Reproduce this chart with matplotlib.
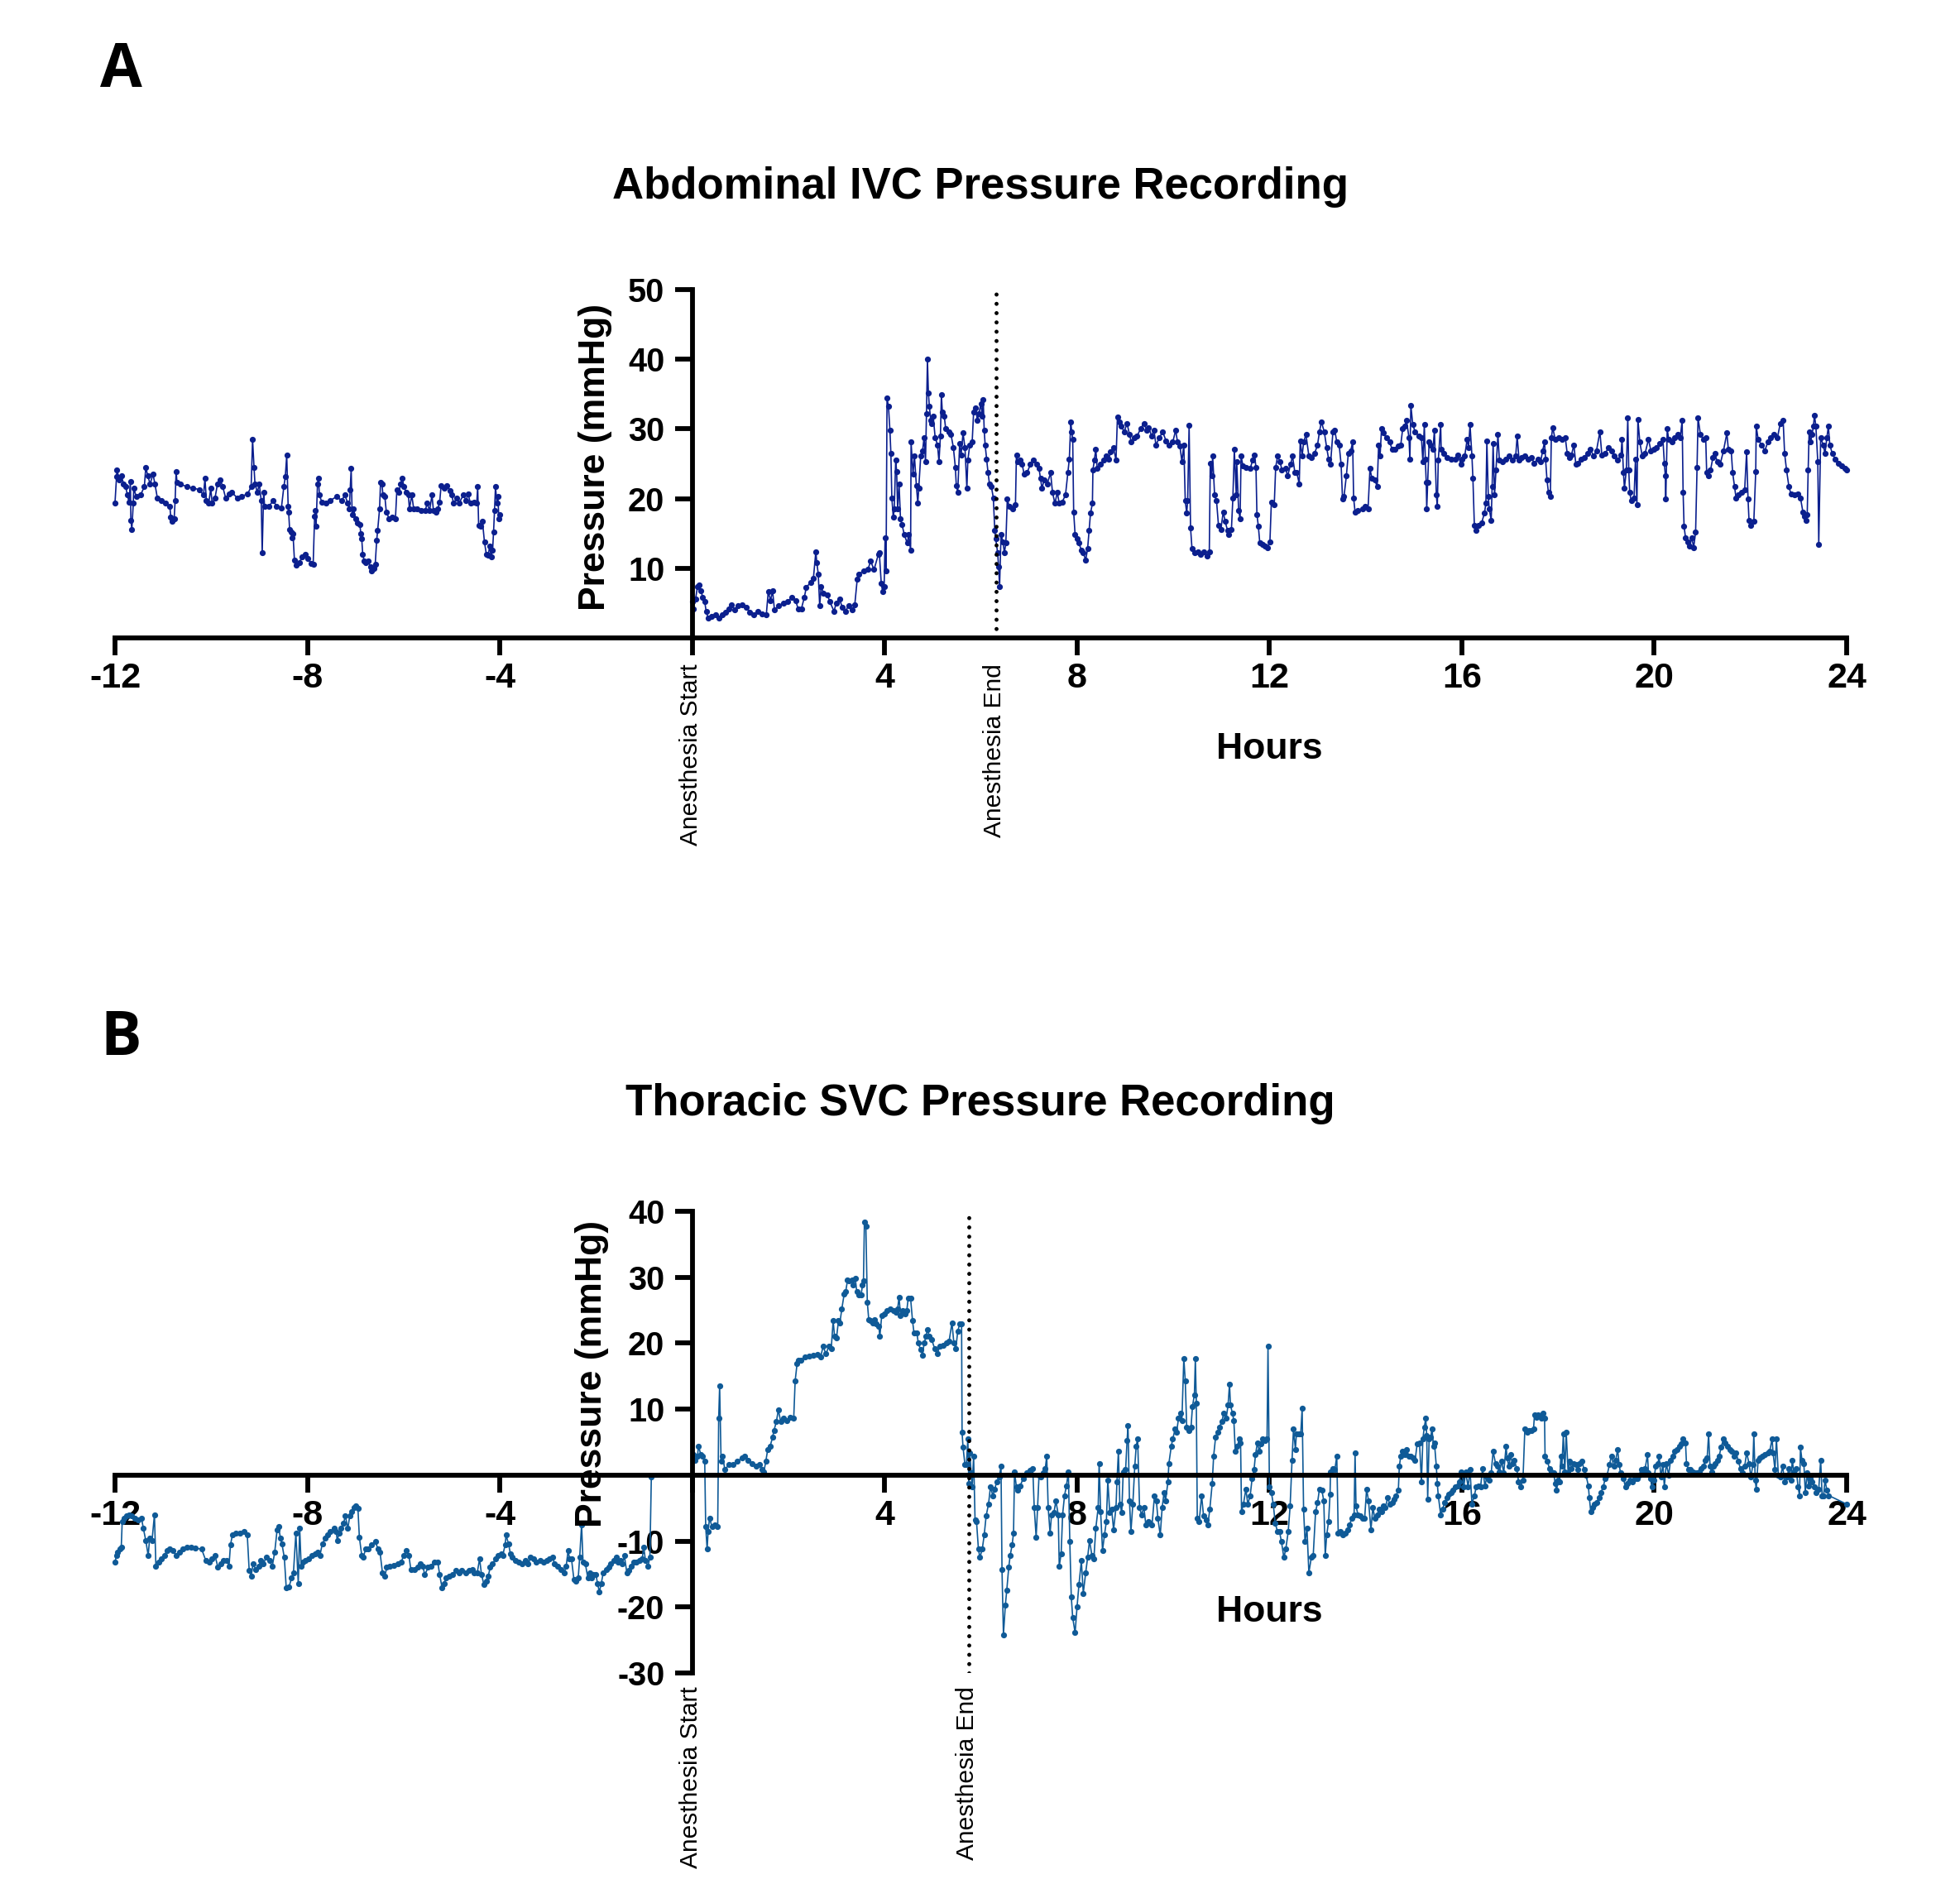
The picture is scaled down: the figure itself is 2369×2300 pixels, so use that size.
import matplotlib
matplotlib.use("Agg")
import matplotlib.pyplot as plt
from matplotlib.transforms import blended_transform_factory as btf

plt.rcParams['font.family'] = ['Liberation Sans', 'DejaVu Sans']

# ---------------- DATA ----------------
x_ticks = [-12, -8, -4, 0, 4, 8, 12, 16, 20, 24]
x_tick_labels = ['-12', '-8', '-4', '', '4', '8', '12', '16', '20', '24']
a_y_ticks = [10, 20, 30, 40, 50]
b_y_ticks = [-30, -20, -10, 10, 20, 30, 40]

anesthesia_start = 0.0
a_anesthesia_end = 6.32
b_anesthesia_end = 5.75

# Panel A, recording before anesthesia (hours, mmHg)
a_pre_hours = [
    -12.00, -11.97, -11.96, -11.91, -11.87, -11.82, -11.78, -11.74, -11.71, -11.68,
    -11.67, -11.65, -11.62, -11.61, -11.56, -11.47, -11.39, -11.36, -11.32, -11.27,
    -11.21, -11.17, -11.12, -11.04, -10.95, -10.86, -10.84, -10.82, -10.77, -10.75,
    -10.73, -10.71, -10.64, -10.51, -10.38, -10.25, -10.16, -10.13, -10.10, -10.05,
    -10.01, -9.98, -9.92, -9.87, -9.81, -9.76, -9.70, -9.63, -9.57, -9.46,
    -9.37, -9.24, -9.17, -9.14, -9.11, -9.09, -9.04, -9.00, -8.96, -8.94,
    -8.91, -8.89, -8.80, -8.71, -8.64, -8.54, -8.49, -8.46, -8.43, -8.40,
    -8.39, -8.37, -8.34, -8.32, -8.30, -8.27, -8.23, -8.17, -8.11, -8.05,
    -7.99, -7.92, -7.88, -7.85, -7.83, -7.82, -7.79, -7.77, -7.75, -7.70,
    -7.61, -7.53, -7.39, -7.29, -7.22, -7.16, -7.13, -7.11, -7.09, -7.07,
    -7.04, -7.00, -6.96, -6.91, -6.89, -6.87, -6.85, -6.82, -6.78, -6.74,
    -6.69, -6.66, -6.62, -6.59, -6.56, -6.54, -6.50, -6.48, -6.45, -6.43,
    -6.39, -6.36, -6.30, -6.24, -6.17, -6.14, -6.10, -6.06, -6.03, -5.99,
    -5.95, -5.90, -5.88, -5.83, -5.79, -5.73, -5.64, -5.55, -5.51, -5.46,
    -5.41, -5.38, -5.33, -5.29, -5.25, -5.22, -5.16, -5.10, -5.04, -5.00,
    -4.96, -4.89, -4.85, -4.76, -4.70, -4.66, -4.61, -4.54, -4.48, -4.46,
    -4.44, -4.39, -4.36, -4.32, -4.28, -4.24, -4.21, -4.18, -4.15, -4.13,
    -4.11, -4.09, -4.06, -4.04, -4.02, -4.00]
a_pre_values = [
    19.4, 23.1, 24.1, 22.7, 23.3, 22.1, 21.7, 20.5, 19.5, 22.5,
    16.9, 15.6, 19.3, 21.5, 20.3, 20.5, 21.7, 24.5, 23.3, 22.1,
    23.5, 22.1, 20.1, 19.7, 19.3, 18.9, 17.3, 16.7, 17.1, 19.7,
    23.9, 22.3, 22.1, 21.7, 21.5, 21.3, 20.5, 22.9, 19.7, 19.3,
    21.5, 19.3, 20.1, 22.1, 22.7, 21.7, 20.1, 20.7, 20.9, 20.1,
    20.3, 20.7, 21.7, 28.5, 24.5, 22.1, 20.9, 22.1, 19.7, 12.2,
    20.9, 18.9, 18.9, 19.7, 18.9, 18.7, 21.7, 23.1, 26.2, 18.9,
    18.1, 15.6, 15.2, 14.4, 15.0, 11.2, 10.4, 10.8, 11.6, 12.0,
    11.4, 10.7, 10.6, 17.5, 18.3, 16.0, 22.1, 22.9, 20.5, 19.5,
    19.3, 19.7, 20.3, 19.7, 20.5, 19.3, 18.5, 21.3, 24.3, 17.7,
    18.5, 17.1, 16.5, 16.3, 15.0, 14.2, 12.0, 11.1, 10.8, 11.0,
    10.2, 9.6, 10.0, 10.6, 14.0, 15.4, 18.5, 22.3, 22.1, 20.5,
    20.3, 18.1, 17.1, 17.3, 17.1, 21.3, 20.9, 22.1, 22.9, 21.7,
    20.9, 20.5, 18.5, 20.5, 18.5, 18.5, 18.3, 18.3, 19.3, 18.3,
    20.5, 18.3, 18.1, 18.5, 19.5, 21.9, 21.5, 21.9, 21.1, 20.5,
    19.3, 20.1, 19.3, 20.5, 19.7, 20.7, 19.3, 19.5, 19.3, 21.7,
    16.2, 16.0, 16.7, 13.8, 12.0, 11.9, 13.2, 11.6, 12.6, 15.2,
    18.3, 21.7, 19.3, 20.3, 17.1, 17.7]

# Panel A, recording from anesthesia start onward (hours, mmHg)
a_post_hours = [
    0.00, 0.02, 0.07, 0.11, 0.15, 0.18, 0.22, 0.26, 0.29, 0.33,
    0.40, 0.48, 0.55, 0.62, 0.70, 0.77, 0.81, 0.88, 0.95, 1.04,
    1.13, 1.19, 1.27, 1.36, 1.45, 1.54, 1.58, 1.63, 1.67, 1.71,
    1.80, 1.89, 1.98, 2.07, 2.15, 2.20, 2.27, 2.33, 2.37, 2.46,
    2.52, 2.57, 2.59, 2.62, 2.65, 2.68, 2.73, 2.81, 2.86, 2.95,
    2.99, 3.06, 3.12, 3.18, 3.25, 3.32, 3.38, 3.43, 3.47, 3.56,
    3.65, 3.71, 3.78, 3.87, 3.89, 3.93, 3.96, 3.99, 4.01, 4.03,
    4.05, 4.08, 4.11, 4.13, 4.15, 4.18, 4.20, 4.23, 4.25, 4.27,
    4.30, 4.33, 4.36, 4.41, 4.47, 4.50, 4.54, 4.55, 4.59, 4.62,
    4.66, 4.69, 4.71, 4.75, 4.79, 4.82, 4.85, 4.87, 4.89, 4.91,
    4.93, 4.96, 4.98, 5.01, 5.05, 5.10, 5.13, 5.16, 5.18, 5.20,
    5.24, 5.27, 5.33, 5.38, 5.43, 5.47, 5.49, 5.52, 5.56, 5.59,
    5.63, 5.67, 5.71, 5.73, 5.77, 5.82, 5.85, 5.89, 5.93, 5.96,
    6.00, 6.03, 6.05, 6.07, 6.09, 6.12, 6.15, 6.18, 6.22, 6.26,
    6.29, 6.31, 6.35, 6.37, 6.39, 6.42, 6.46, 6.49, 6.52, 6.55,
    6.59, 6.66, 6.72, 6.74, 6.77, 6.81, 6.86, 6.90, 6.96, 7.03,
    7.09, 7.16, 7.21, 7.24, 7.27, 7.32, 7.38, 7.45, 7.49, 7.54,
    7.59, 7.63, 7.69, 7.76, 7.81, 7.84, 7.87, 7.89, 7.91, 7.93,
    7.96, 8.00, 8.04, 8.09, 8.13, 8.18, 8.22, 8.25, 8.28, 8.32,
    8.33, 8.36, 8.39, 8.42, 8.48, 8.55, 8.60, 8.66, 8.70, 8.76,
    8.81, 8.84, 8.88, 8.92, 8.98, 9.04, 9.09, 9.13, 9.19, 9.25,
    9.32, 9.39, 9.45, 9.49, 9.55, 9.60, 9.64, 9.71, 9.78, 9.85,
    9.92, 9.99, 10.05, 10.09, 10.14, 10.18, 10.22, 10.25, 10.28, 10.30,
    10.33, 10.36, 10.39, 10.44, 10.51, 10.57, 10.64, 10.70, 10.75, 10.77,
    10.80, 10.82, 10.86, 10.90, 10.94, 10.99, 11.04, 11.08, 11.13, 11.16,
    11.21, 11.24, 11.27, 11.31, 11.32, 11.36, 11.39, 11.41, 11.45, 11.52,
    11.60, 11.65, 11.69, 11.72, 11.74, 11.77, 11.80, 11.85, 11.91, 11.96,
    12.01, 12.04, 12.10, 12.13, 12.17, 12.22, 12.26, 12.33, 12.38, 12.44,
    12.48, 12.53, 12.57, 12.62, 12.64, 12.68, 12.71, 12.76, 12.82, 12.88,
    12.94, 13.00, 13.04, 13.08, 13.14,
    13.19, 13.23, 13.27, 13.32, 13.36, 13.40, 13.45, 13.49, 13.52, 13.55,
    13.60, 13.64, 13.69, 13.73, 13.75, 13.78, 13.84, 13.93, 13.99, 14.05,
    14.09, 14.13, 14.19, 14.24, 14.27, 14.30, 14.33, 14.37, 14.43, 14.50,
    14.55, 14.61, 14.68, 14.73, 14.77, 14.81, 14.85, 14.90, 14.92, 14.94,
    14.98, 15.03, 15.10, 15.16, 15.19, 15.22, 15.24, 15.26, 15.27, 15.29,
    15.32, 15.35, 15.40, 15.43, 15.47, 15.49, 15.51, 15.56, 15.57, 15.63,
    15.69, 15.78, 15.86, 15.92, 15.98, 16.01, 16.06, 16.11, 16.14, 16.17,
    16.21, 16.23, 16.26, 16.30, 16.35, 16.41, 16.47, 16.50, 16.52, 16.55,
    16.57, 16.61, 16.63, 16.65, 16.68, 16.71, 16.75, 16.78, 16.85, 16.92,
    16.99, 17.05, 17.12, 17.15, 17.19, 17.24, 17.31, 17.38, 17.45, 17.50,
    17.58, 17.64, 17.68, 17.72, 17.74, 17.77, 17.80, 17.84, 17.86, 17.89,
    17.94, 18.01, 18.08, 18.15, 18.19, 18.23, 18.28, 18.33, 18.37, 18.41,
    18.48, 18.54, 18.61, 18.67, 18.74, 18.80, 18.87, 18.91, 18.98, 19.05,
    19.11, 19.17, 19.24, 19.31, 19.33, 19.36, 19.38, 19.42, 19.45, 19.47,
    19.49, 19.52, 19.58, 19.61, 19.64, 19.66, 19.70, 19.75, 19.81, 19.88,
    19.93, 19.99, 20.05, 20.12, 20.18, 20.21, 20.23, 20.24, 20.27, 20.30,
    20.37, 20.43, 20.49, 20.54, 20.58, 20.60, 20.62, 20.65, 20.69, 20.74,
    20.78, 20.82, 20.86, 20.89, 20.91, 20.96, 21.02, 21.07, 21.09, 21.13,
    21.17, 21.22, 21.26, 21.31, 21.37, 21.44, 21.51, 21.54, 21.60, 21.63,
    21.67, 21.70, 21.75, 21.82, 21.88, 21.92, 21.95, 21.97, 22.01, 22.07,
    22.11, 22.12, 22.16, 22.23, 22.30, 22.36, 22.42, 22.49, 22.56, 22.62,
    22.68, 22.71, 22.75, 22.80, 22.84, 22.91, 22.98, 23.04, 23.09, 23.12,
    23.15, 23.18, 23.20, 23.22, 23.25, 23.28, 23.31, 23.33, 23.36, 23.40,
    23.42, 23.46, 23.51, 23.55, 23.59, 23.62, 23.65, 23.70, 23.76, 23.83,
    23.90, 23.97, 24.00]
a_post_values = [
    5.2, 4.2, 5.6, 7.4, 7.6, 6.8, 5.8, 5.2, 3.8, 2.9,
    3.1, 3.3, 2.9, 3.3, 3.7, 4.2, 4.8, 4.0, 4.6, 4.7,
    4.4, 3.7, 3.3, 3.8, 3.5, 3.3, 6.6, 5.4, 6.8, 4.0,
    4.6, 5.0, 5.2, 5.8, 5.4, 4.2, 4.2, 5.8, 7.2, 8.0,
    8.6, 12.4, 10.8, 9.2, 4.6, 7.4, 6.4, 6.2, 5.2, 3.8,
    5.0, 5.6, 4.4, 3.8, 4.6, 4.0, 4.8, 8.4, 9.2, 9.6,
    9.8, 11.0, 9.8, 12.0, 12.2, 7.8, 6.6, 7.4, 14.4, 9.6,
    34.4, 33.2, 29.8, 26.5, 20.1, 17.3, 18.5, 25.5, 23.9, 18.5,
    22.1, 17.1, 16.3, 14.8, 13.6, 14.8, 12.6, 28.1, 23.5, 26.1,
    21.9, 19.3, 21.5, 26.1, 26.9, 28.8, 25.3, 32.2, 40.0, 35.2,
    33.2, 31.2, 30.8, 31.8, 28.8, 27.7, 25.3, 29.0, 34.9, 32.4,
    31.8, 30.0, 29.6, 29.2, 27.3, 24.5, 21.9, 20.9, 27.9, 26.3,
    29.4, 27.3, 21.5, 25.5, 27.7, 28.1, 32.4, 33.0, 31.2, 32.2,
    33.6, 31.8, 34.2, 29.8, 27.7, 25.7, 23.7, 22.1, 21.7, 20.1,
    15.4, 14.2, 12.2, 10.2, 7.4, 14.8, 13.8, 12.2, 13.6, 19.9,
    18.9, 18.5, 19.1, 26.3, 25.3, 25.5, 24.9, 23.5, 23.7, 24.9,
    25.5, 24.9, 24.3, 22.9, 21.5, 22.7, 22.1, 23.7, 20.9, 19.3,
    20.9, 19.3, 19.5, 20.5, 23.7, 25.7, 31.0, 29.6, 28.5, 18.1,
    14.8, 14.2, 13.6, 12.6, 12.2, 11.2, 12.8, 15.4, 17.9, 19.3,
    24.1, 25.5, 27.1, 24.3, 24.9, 25.5, 26.1, 25.7, 26.7, 27.3,
    25.5, 31.7, 31.0, 30.4, 29.6, 30.8, 29.2, 28.1, 28.7, 29.0,
    30.0, 30.8, 29.8, 30.2, 29.0, 29.8, 27.7, 28.7, 29.6, 28.3,
    27.7, 28.1, 29.8, 28.1, 27.5, 25.3, 27.7, 19.7, 17.9, 19.7,
    30.5, 15.8, 12.8, 12.2, 12.4, 12.0, 12.4, 11.8, 12.4, 25.1,
    23.3, 26.1, 20.5, 19.7, 16.2, 15.6, 18.1, 16.7, 15.4, 14.8,
    15.6, 20.1, 27.1, 20.5, 25.3, 18.3, 17.1, 26.1, 24.7, 24.5,
    24.3, 25.5, 26.2, 24.5, 17.7, 16.0, 13.6, 13.4, 13.2, 13.0,
    13.8, 19.5, 19.1, 24.5, 26.1, 25.3, 24.1, 24.3, 23.3, 24.9,
    26.1, 23.7, 23.7, 22.1, 28.3, 26.1, 28.1, 29.2, 26.1, 25.9,
    26.5, 27.7, 29.6, 31.0, 29.6,
    27.3, 25.7, 24.9, 29.6, 29.8, 28.1, 27.7, 24.9, 19.9, 20.3,
    23.3, 26.5, 26.9, 28.1, 20.1, 18.1, 18.3, 18.5, 18.9, 18.5,
    24.3, 22.9, 22.7, 21.7, 27.7, 26.1, 30.0, 29.4, 28.7, 28.1,
    27.1, 27.1, 27.5, 27.7, 30.0, 30.4, 31.2, 28.8, 25.7, 33.4,
    30.6, 29.6, 29.0, 28.8, 25.3, 30.6, 25.7, 22.3, 18.5, 22.3,
    28.1, 27.7, 27.1, 29.8, 20.5, 18.9, 25.5, 30.6, 27.1, 26.5,
    25.9, 25.7, 25.7, 26.3, 24.9, 25.7, 26.1, 28.5, 27.3, 30.6,
    26.1, 22.9, 16.2, 15.4, 16.2, 16.5, 17.9, 19.3, 28.3, 20.3,
    18.5, 16.9, 21.7, 27.9, 20.5, 24.1, 29.2, 25.5, 25.3, 25.7,
    26.1, 25.5, 26.1, 29.0, 25.5, 25.9, 26.1, 25.7, 25.9, 25.1,
    25.7, 25.3, 26.9, 28.1, 25.7, 22.7, 20.9, 20.3, 28.7, 30.2,
    28.5, 28.7, 28.5, 28.8, 26.5, 25.9, 26.3, 27.7, 24.9, 25.1,
    25.7, 25.9, 26.5, 27.1, 26.1, 26.9, 29.6, 26.3, 26.5, 27.3,
    26.9, 26.1, 25.5, 26.3, 28.5, 23.7, 21.5, 24.1, 31.6, 24.1,
    20.9, 19.7, 20.1, 25.7, 19.1, 31.4, 28.1, 26.1, 26.5, 28.5,
    26.9, 27.1, 27.3, 27.9, 28.5, 25.1, 23.3, 19.9, 30.0, 28.5,
    28.1, 28.7, 29.2, 28.7, 31.2, 20.9, 16.0, 14.4, 13.8, 13.2,
    14.4, 13.0, 15.2, 24.5, 31.6, 29.2, 28.5, 28.7, 23.7, 23.3,
    24.1, 25.9, 26.5, 25.3, 24.9, 26.9, 29.4, 27.1, 26.9, 23.7,
    21.7, 20.1, 20.5, 20.9, 21.3, 26.7, 19.9, 16.9, 16.2, 16.7,
    23.9, 30.4, 28.5, 27.7, 26.9, 28.1, 28.8, 29.2, 28.7, 30.8,
    31.2, 26.5, 24.1, 21.7, 20.7, 20.5, 20.7, 20.1, 18.1, 17.5,
    16.9, 17.7, 24.1, 29.6, 28.1, 29.2, 30.4, 32.0, 30.4, 25.3,
    13.4, 28.8, 27.7, 26.5, 28.8, 30.4, 27.7, 26.5, 25.7, 25.1,
    24.7, 24.3, 24.1]

# Panel B (hours, mmHg)
b_hours = [
    -12.00, -11.97, -11.94, -11.90, -11.87, -11.85, -11.81, -11.76, -11.71, -11.65,
    -11.59, -11.52, -11.45, -11.41, -11.36, -11.31, -11.28, -11.23, -11.18, -11.15,
    -11.09, -11.03, -10.97, -10.92, -10.86, -10.80, -10.73, -10.65, -10.59, -10.51,
    -10.42, -10.33, -10.20, -10.11, -10.04, -9.98, -9.92, -9.86, -9.80, -9.74,
    -9.67, -9.63, -9.60, -9.56, -9.49, -9.41, -9.32, -9.25, -9.21, -9.17,
    -9.13, -9.07, -9.01, -8.97, -8.92, -8.86, -8.79, -8.73, -8.68, -8.63,
    -8.60, -8.56, -8.53, -8.48, -8.44, -8.38, -8.33, -8.29, -8.24, -8.19,
    -8.16, -8.13, -8.09, -8.04, -7.98, -7.91, -7.84, -7.78, -7.74, -7.69,
    -7.63, -7.58, -7.52, -7.45, -7.40, -7.38, -7.34, -7.30, -7.25, -7.21,
    -7.16, -7.12, -7.08, -7.03, -6.99, -6.95, -6.92, -6.87, -6.84, -6.79,
    -6.73, -6.66, -6.59, -6.53, -6.49, -6.44, -6.39, -6.35, -6.29, -6.20,
    -6.11, -6.05, -6.00, -5.94, -5.89, -5.85, -5.78, -5.71, -5.65, -5.60,
    -5.56, -5.49, -5.43, -5.36, -5.29, -5.25, -5.20, -5.16, -5.12, -5.05,
    -4.99, -4.92, -4.85, -4.79, -4.70, -4.64, -4.57, -4.53, -4.47, -4.42,
    -4.38, -4.33, -4.28, -4.24, -4.20, -4.15, -4.09, -4.03, -3.97, -3.94,
    -3.89, -3.87, -3.82, -3.78, -3.74, -3.67, -3.60, -3.53, -3.47, -3.41,
    -3.36, -3.30, -3.24, -3.16, -3.09, -3.03, -2.97, -2.90, -2.86, -2.80,
    -2.73, -2.66, -2.62, -2.58, -2.55, -2.51, -2.46, -2.42, -2.37, -2.34,
    -2.30, -2.27, -2.22, -2.17, -2.13, -2.09, -2.05, -2.00, -1.97, -1.93,
    -1.89, -1.85, -1.79, -1.74, -1.69, -1.63, -1.58, -1.54, -1.49, -1.45,
    -1.41, -1.36, -1.32, -1.27, -1.21, -1.16, -1.10, -1.04, -1.01, -0.97,
    -0.92, -0.88, -0.85,
    0.00, 0.02, 0.06, 0.11, 0.13, 0.18, 0.22, 0.26, 0.28, 0.31,
    0.33, 0.36, 0.41, 0.47, 0.53, 0.55, 0.57, 0.60, 0.63, 0.68,
    0.76, 0.85, 0.94, 1.03, 1.09, 1.16, 1.25, 1.33, 1.40, 1.45,
    1.49, 1.53, 1.57, 1.62, 1.67, 1.70, 1.75, 1.79, 1.84, 1.90,
    1.96, 2.04, 2.11, 2.14, 2.18, 2.21, 2.26, 2.34, 2.43, 2.52,
    2.61, 2.67, 2.72, 2.78, 2.84, 2.89, 2.93, 2.96, 3.00, 3.04,
    3.07, 3.11, 3.16, 3.19, 3.23, 3.26, 3.32, 3.35, 3.39, 3.42,
    3.46, 3.51, 3.54, 3.56, 3.58, 3.61, 3.64, 3.67, 3.70, 3.75,
    3.79, 3.83, 3.88, 3.90, 3.94, 3.99, 4.05, 4.11, 4.18, 4.23,
    4.27, 4.30, 4.33, 4.38, 4.42, 4.46, 4.49, 4.54, 4.58, 4.61,
    4.67, 4.70, 4.75, 4.79, 4.82, 4.86, 4.89, 4.93, 4.98, 5.04,
    5.09, 5.15, 5.22, 5.28, 5.34, 5.40, 5.44, 5.48, 5.52, 5.56,
    5.60, 5.61, 5.63, 5.67, 5.70, 5.73, 5.75, 5.77, 5.80, 5.82,
    5.85, 5.88, 5.91, 5.95, 5.98, 6.03, 6.07, 6.11, 6.16, 6.20,
    6.25, 6.29, 6.33, 6.38, 6.42, 6.44, 6.47, 6.51, 6.54, 6.58,
    6.61, 6.65, 6.68, 6.70, 6.74, 6.77, 6.82, 6.88, 6.95, 7.02,
    7.08, 7.11, 7.15, 7.18, 7.21, 7.25, 7.30, 7.34, 7.37, 7.40,
    7.44, 7.47, 7.52, 7.56, 7.61, 7.63, 7.67, 7.70, 7.74, 7.78,
    7.82, 7.85, 7.88, 7.91, 7.96, 8.00, 8.04, 8.09, 8.13, 8.18,
    8.22, 8.26, 8.31, 8.35, 8.39, 8.44, 8.46, 8.49, 8.53, 8.57,
    8.61, 8.64, 8.68, 8.72, 8.76, 8.81, 8.83, 8.86, 8.89, 8.93,
    8.96, 9.01, 9.04, 9.06, 9.09, 9.12, 9.16, 9.20, 9.23, 9.26,
    9.30, 9.34, 9.39, 9.43, 9.49, 9.56, 9.61, 9.65, 9.68, 9.73,
    9.77, 9.81, 9.84, 9.89, 9.91, 9.96, 9.99, 10.04, 10.07, 10.11,
    10.15, 10.18, 10.22, 10.25, 10.28, 10.32, 10.37, 10.40, 10.44, 10.46,
    10.48, 10.50, 10.54, 10.59, 10.63, 10.68, 10.72, 10.76, 10.81, 10.84,
    10.88, 10.92, 10.96, 11.01, 11.05, 11.10, 11.14, 11.17, 11.19, 11.23,
    11.26, 11.29, 11.33, 11.38, 11.40, 11.42, 11.46, 11.51, 11.55, 11.60,
    11.64, 11.68, 11.71, 11.75, 11.79, 11.82, 11.86, 11.90, 11.95, 11.97,
    12.00, 12.04, 12.08, 12.12, 12.17, 12.21, 12.25, 12.30, 12.34, 12.39,
    12.43, 12.47, 12.50, 12.54, 12.56, 12.61, 12.65, 12.68, 12.71, 12.74,
    12.78, 12.82, 12.87, 12.91, 12.96, 13.00, 13.04, 13.09, 13.13,
    13.16, 13.19, 13.23, 13.26, 13.27, 13.32, 13.36, 13.40, 13.43, 13.47,
    13.52, 13.57, 13.62, 13.67, 13.71, 13.76, 13.78, 13.80, 13.84, 13.89,
    13.93, 13.98, 14.02, 14.06, 14.11, 14.15, 14.19, 14.24, 14.28, 14.33,
    14.37, 14.41, 14.46, 14.50, 14.55, 14.59, 14.63, 14.68, 14.70, 14.73,
    14.77, 14.81, 14.85, 14.90, 14.94, 14.99, 15.03, 15.07, 15.12, 15.16,
    15.19, 15.22, 15.25, 15.27, 15.29, 15.32, 15.35, 15.38, 15.41, 15.43,
    15.47, 15.49, 15.51, 15.56, 15.60, 15.64, 15.69, 15.73, 15.78, 15.82,
    15.86, 15.91, 15.95, 15.98, 16.01, 16.04, 16.08, 16.13, 16.17, 16.21,
    16.26, 16.30, 16.35, 16.39, 16.43, 16.48, 16.52, 16.57, 16.61, 16.65,
    16.70, 16.74, 16.78, 16.83, 16.87, 16.92, 16.94, 16.98, 17.01, 17.05,
    17.09, 17.14, 17.18, 17.22, 17.27, 17.31, 17.36, 17.40, 17.44, 17.49,
    17.51, 17.55, 17.59, 17.65, 17.68, 17.72, 17.73, 17.78, 17.82, 17.86,
    17.91, 17.94, 17.97, 18.00, 18.03, 18.06, 18.08, 18.11, 18.14, 18.17,
    18.21, 18.24, 18.28, 18.32, 18.37, 18.41, 18.45, 18.50, 18.54, 18.58,
    18.63, 18.65, 18.68, 18.72, 18.76, 18.80, 18.85, 18.89, 18.94, 18.98,
    19.02, 19.07, 19.11, 19.16, 19.20, 19.24, 19.27, 19.30, 19.36, 19.40,
    19.45, 19.49, 19.55, 19.59, 19.64, 19.68, 19.73, 19.77, 19.81, 19.86,
    19.88, 19.92, 19.95, 19.99, 20.03, 20.08, 20.10, 20.14, 20.18, 20.21,
    20.25, 20.30, 20.34, 20.38, 20.43, 20.47, 20.52, 20.56, 20.60, 20.65,
    20.67, 20.71, 20.75, 20.80, 20.84, 20.89, 20.93, 20.97, 21.02, 21.06,
    21.10, 21.13, 21.16, 21.19, 21.23, 21.26, 21.31, 21.35, 21.39, 21.44,
    21.48, 21.53, 21.57, 21.61, 21.66, 21.70, 21.75, 21.79, 21.83, 21.88,
    21.92, 21.97, 22.01, 22.05, 22.07, 22.10, 22.12, 22.16, 22.19, 22.25,
    22.30, 22.36, 22.40, 22.45, 22.47, 22.51, 22.54, 22.58, 22.62, 22.67,
    22.71, 22.76, 22.80, 22.84, 22.87, 22.90, 22.95, 22.99, 23.02, 23.04,
    23.07, 23.11, 23.14, 23.18, 23.21, 23.25, 23.28, 23.33, 23.37, 23.42,
    23.46, 23.49, 23.52, 23.55, 23.59, 23.63, 24.00]
b_values = [
    -13.2, -12.2, -11.7, -11.2, -10.9, -7.0, -6.5, -6.2, -6.0, -6.2,
    -6.5, -6.8, -6.5, -8.1, -9.9, -12.2, -9.6, -9.9, -6.0, -13.8,
    -13.2, -12.7, -12.2, -11.4, -11.2, -11.4, -12.2, -11.7, -11.2, -10.9,
    -10.9, -11.1, -11.2, -13.0, -13.2, -12.7, -12.2, -14.0, -13.5, -13.0,
    -13.0, -13.8, -10.6, -9.1, -8.8, -8.8, -8.6, -9.1, -14.5, -15.3,
    -13.5, -14.3, -13.8, -13.0, -13.5, -12.5, -13.0, -13.8, -11.7, -8.3,
    -7.8, -9.6, -10.4, -12.5, -17.1, -16.9, -15.6, -14.8, -8.8, -16.4,
    -8.1, -13.8, -13.2, -13.0, -12.7, -12.2, -11.9, -11.7, -12.2, -10.4,
    -9.6, -9.1, -8.6, -8.1, -8.6, -9.9, -8.8, -8.1, -7.3, -6.2,
    -8.1, -6.2, -5.5, -4.9, -4.7, -5.0, -9.4, -12.2, -12.5, -11.2,
    -11.2, -10.6, -10.1, -11.2, -11.7, -14.8, -15.3, -14.0, -13.8, -13.7,
    -13.5, -13.2, -12.2, -11.4, -12.2, -14.3, -14.3, -14.0, -13.5, -13.8,
    -15.1, -14.0, -13.8, -13.2, -13.2, -15.1, -17.1, -16.4, -15.6, -15.3,
    -15.1, -14.5, -14.8, -14.5, -14.8, -14.5, -14.3, -14.8, -14.8, -12.7,
    -15.1, -16.6, -16.1, -15.3, -14.0, -13.5, -12.7, -12.2, -11.9, -12.2,
    -10.6, -9.1, -10.4, -11.9, -12.5, -13.0, -13.2, -13.5, -13.0, -13.5,
    -12.5, -12.7, -13.2, -13.0, -13.2, -13.0, -12.7, -12.5, -13.5, -13.8,
    -14.3, -14.8, -13.8, -11.4, -12.7, -12.7, -15.8, -16.1, -15.6, -12.5,
    -7.5, -13.2, -13.5, -15.6, -14.8, -15.6, -15.1, -15.1, -16.4, -17.7,
    -16.4, -14.8, -14.3, -14.0, -13.5, -13.0, -12.5, -13.2, -13.0, -13.5,
    -12.2, -14.8, -14.5, -13.8, -13.2, -13.2, -13.0, -12.7, -10.9, -13.0,
    -13.8, -12.5, -0.3,
    0.0, 3.1, 2.3, 2.9, 4.4, 3.1, 2.9, 2.1, -7.8, -11.2,
    -8.6, -6.5, -7.8, -7.5, -7.8, 8.6, 13.5, 2.1, 2.9, 0.8,
    1.6, 1.6, 2.1, 2.6, 2.9, 2.3, 1.8, 1.3, 1.6, 0.8,
    0.5, 2.1, 3.9, 4.4, 5.7, 6.8, 8.1, 9.9, 8.1, 8.6,
    8.3, 8.8, 8.6, 14.3, 16.9, 17.4, 17.4, 17.9, 18.0, 18.2,
    18.3, 17.9, 19.5, 18.4, 19.5, 19.2, 23.4, 21.0, 20.8, 23.4,
    23.1, 25.2, 27.5, 27.8, 29.6, 29.4, 29.6, 28.8, 29.9, 27.8,
    27.3, 27.3, 28.8, 29.4, 38.4, 37.7, 26.2, 23.6, 23.4, 23.1,
    23.6, 22.9, 22.6, 21.0, 24.2, 24.4, 24.9, 25.2, 24.9, 24.7,
    25.2, 27.0, 24.2, 24.9, 24.4, 24.9, 26.8, 26.8, 23.4, 21.6,
    21.6, 20.0, 19.0, 18.2, 20.0, 21.0, 22.1, 21.0, 20.5, 19.2,
    18.4, 19.5, 19.7, 20.0, 20.3, 23.1, 20.0, 19.2, 21.8, 22.9,
    22.9, 6.5, 4.2, 1.6, 1.6, 5.5, -1.3, 3.4, 0.3, -1.8,
    2.9, -6.8, -7.0, -11.2, -12.5, -11.2, -9.1, -6.2, -4.4, -1.8,
    -3.1, -2.1, -1.0, -0.3, 1.3, -14.3, -24.2, -19.7, -17.4, -14.0,
    -12.2, -10.6, -8.8, 0.5, -1.8, -2.3, -1.6, -0.5, 0.3, 0.7,
    1.0, -4.9, -9.4, -4.9, 0.0, -0.3, 0.3, 1.0, 2.9, -4.9,
    -8.8, -6.0, -5.7, -3.9, -6.0, -13.8, -11.9, -6.0, -3.1, -1.6,
    0.5, -10.1, -18.4, -21.6, -23.9, -20.0, -16.6, -13.0, -17.9, -14.8,
    -12.5, -9.9, -12.2, -12.7, -8.1, -4.9, 1.8, -5.5, -11.4, -9.1,
    -7.0, -0.8, -5.7, -5.2, -8.3, -4.9, -1.0, 3.6, -4.4, -5.7,
    0.5, 0.8, 5.2, 7.5, -3.9, -8.6, -4.4, 1.3, 4.4, 5.5,
    -4.9, -6.0, -4.9, -7.5, -7.0, -7.5, -3.1, -3.9, -6.5, -9.1,
    -4.9, -2.6, -3.9, -1.0, 1.8, 4.4, 5.5, 7.0, 6.5, 8.6,
    9.4, 8.3, 17.7, 14.3, 7.3, 6.8, 7.3, 10.4, 12.2, 17.7,
    10.9, -6.5, -7.0, -3.1, -6.2, -6.8, -7.5, -5.2, -1.3, 2.9,
    5.7, 6.5, 7.3, 8.1, 9.4, 8.6, 10.6, 13.8, 10.6, 9.4,
    8.3, 3.6, 4.4, 5.5, 4.9, -5.5, -4.4, -2.1, -4.4, -3.1,
    -0.5, 0.8, 3.1, 4.9, 3.6, 4.7, 5.5, 5.2, 5.5, 19.5,
    -1.8, -2.6, -4.4, -7.3, -8.6, -8.6, -10.1, -12.5, -11.2, -8.6,
    -4.7, 2.3, 7.0, 3.9, 6.2, 6.2, 6.2, 10.1, -5.2, -10.1,
    -8.1, -14.8, -12.5, -12.2, -5.5, -4.2, -2.1, -2.3, -3.9,
    -12.2, -9.1, -7.0, -2.9, 0.5, 1.0, 0.8, 2.9, -8.8, -8.6,
    -9.1, -8.8, -8.3, -7.5, -6.5, -6.0, 3.4, -4.7, -6.0, -6.2,
    -6.5, -6.5, -2.1, -3.9, -8.3, -4.9, -6.5, -6.0, -5.2, -5.5,
    -4.7, -4.9, -3.4, -4.4, -4.2, -3.6, -3.1, -2.3, 1.3, 2.9,
    3.6, 3.1, 3.9, 2.9, 2.9, 2.6, 2.3, 4.7, 4.9, -1.0,
    5.5, 7.3, 8.6, 6.0, -3.6, 5.5, 5.7, 7.0, 4.4, 4.9,
    1.3, -1.3, -3.1, -6.0, -5.2, -4.2, -3.4, -2.9, -2.6, -2.3,
    -1.8, -1.6, -1.0, 0.5, 0.3, -1.8, 0.5, -1.8, 0.8, -4.4,
    -3.1, -1.8, -1.6, -1.8, 1.0, -1.6, -0.3, -0.8, 0.3, 3.6,
    1.8, 1.3, 0.5, 2.1, 0.3, 4.4, 2.6, 1.3, 3.1, 1.8,
    2.3, 1.0, -1.0, -1.8, -0.8, 7.0, 6.5, 6.8, 6.8, 7.0,
    9.1, 8.8, 9.1, 8.6, 9.4, 8.6, 2.9, 2.1, 1.0, 0.5,
    0.3, -1.3, -2.3, -0.8, -1.0, 2.9, 1.3, 6.2, 0.5, 6.5,
    0.3, 2.1, 1.0, 1.8, 1.6, 0.8, 1.8, 2.1, 0.8, 0.0,
    -1.6, -3.4, -5.5, -4.9, -4.4, -4.2, -3.4, -2.6, -1.8, -0.5,
    0.0, 1.6, 2.9, 1.3, 2.3, 3.9, 1.6, 0.3, -0.5, -1.8,
    -1.3, -0.8, -1.0, -0.5, -0.5, 0.0, 0.8, 0.3, 1.0, 3.1,
    0.3, -0.5, -1.8, -0.8, 1.3, 1.8, 2.9, -0.3, 1.6, -1.8,
    1.8, 0.0, 2.3, 2.9, 3.6, 3.9, 4.4, 4.7, 5.5, 4.9,
    1.8, 0.8, 0.8, 0.5, 0.3, 0.3, 0.5, 1.0, 1.3, 2.3,
    2.6, 6.2, 1.3, 0.5, 1.3, 1.8, 2.3, 2.9, 4.2, 5.5,
    4.9, 4.4, 3.9, 3.6, 2.9, 3.4, 2.1, 1.0, 0.3, 1.3,
    3.4, 1.8, -0.3, 1.6, 6.2, -0.8, -2.1, 2.3, 2.6, 2.9,
    3.1, 3.4, 3.6, 5.5, 3.4, 0.8, 5.5, 0.0, -0.3, 1.3,
    -1.0, -0.3, 1.0, -0.8, 2.3, 0.5, 1.0, -1.8, -3.1, 4.2,
    2.3, 1.8, -2.6, 0.3, -1.6, -0.5, -1.0, -1.8, -2.6, -2.1,
    2.3, -3.1, -3.1, -0.8, -2.3, -3.1, -4.4]

# ---------------- STYLE ----------------
COLOR_A = '#0b1f8e'
COLOR_B = '#0f5a97'


def pair(xs, ys):
    n = min(len(xs), len(ys))
    return xs[:n], ys[:n]


W, H = 2369, 2300
fig = plt.figure(figsize=(W / 100, H / 100), dpi=100)


def px_axes(x0, x1, ytop, ybot):
    return fig.add_axes([x0 / W, 1 - ybot / H, (x1 - x0) / W, (ybot - ytop) / H])


axA = px_axes(139, 2232, 350, 771)
axB = px_axes(139, 2232, 1464, 2022)


def style_axes(ax, ylim, yticks):
    ax.set_xlim(-12, 24)
    ax.set_ylim(*ylim)
    ax.patch.set_visible(False)
    ax.spines['top'].set_visible(False)
    ax.spines['right'].set_visible(False)
    ax.spines['left'].set_position(('data', 0))
    ax.spines['bottom'].set_position(('data', 0))
    for s in ('left', 'bottom'):
        ax.spines[s].set_linewidth(4.2)
        ax.spines[s].set_capstyle('projecting')
    ax.set_xticks(x_ticks, labels=x_tick_labels, fontsize=31, fontweight='bold')
    ax.set_yticks(yticks, labels=[str(v) for v in yticks], fontsize=28.5, fontweight='bold')
    ax.tick_params(axis='x', length=15, width=4.2, pad=6, direction='out')
    ax.tick_params(axis='y', length=15, width=4.2, pad=9, direction='out')


style_axes(axA, (0, 50), a_y_ticks)
style_axes(axB, (-30, 40), b_y_ticks)

line_kw = dict(lw=1.2, marker='o', ms=5.2, mew=0, zorder=2, clip_on=False)
axA.plot(*pair(a_pre_hours, a_pre_values), color=COLOR_A, **line_kw)
axA.plot(*pair(a_post_hours, a_post_values), color=COLOR_A, **line_kw)
axB.plot(*pair(b_hours, b_values), color=COLOR_B, **line_kw)

dot_kw = dict(color='black', lw=3.5, linestyle=(0, (0.01, 2.3)),
              dash_capstyle='round', zorder=3)
axA.axvline(a_anesthesia_end, **dot_kw)
axB.axvline(b_anesthesia_end, **dot_kw)


def event_label(ax, x, text, dy_px):
    ax.annotate(text, xy=(x, 0), xycoords=btf(ax.transData, ax.transAxes),
                xytext=(-1.5, -dy_px * 0.72), textcoords='offset points',
                rotation=90, ha='center', va='top', fontsize=21.5)


event_label(axA, anesthesia_start, 'Anesthesia Start', 31)
event_label(axA, a_anesthesia_end, 'Anesthesia End', 31)
event_label(axB, anesthesia_start, 'Anesthesia Start', 16)
event_label(axB, b_anesthesia_end, 'Anesthesia End', 16)

# axis titles
axA.text(12, -0.3468, 'Hours', transform=btf(axA.transData, axA.transAxes),
         ha='center', va='baseline', fontsize=32, fontweight='bold')
axB.text(12, 0.1111, 'Hours', transform=btf(axB.transData, axB.transAxes),
         ha='center', va='baseline', fontsize=32, fontweight='bold')

fig.text(720 / W, 1 - 552 / H, 'Pressure (mmHg)', rotation=90, ha='center',
         va='center', fontsize=32, fontweight='bold')
fig.text(715 / W, 1 - 1660 / H, 'Pressure (mmHg)', rotation=90, ha='center',
         va='center', fontsize=32, fontweight='bold')

# chart titles
fig.text(1185 / W, 1 - 240 / H, 'Abdominal IVC Pressure Recording', ha='center',
         va='baseline', fontsize=38, fontweight='bold')
fig.text(1185 / W, 1 - 1348 / H, 'Thoracic SVC Pressure Recording', ha='center',
         va='baseline', fontsize=38, fontweight='bold')

# panel letters
fig.text(146 / W, 1 - 105 / H, 'A', ha='center', va='baseline', fontsize=53,
         fontweight='bold', family=['Open Sans', 'DejaVu Sans'])
fig.text(146 / W, 1 - 1275 / H, 'B', ha='center', va='baseline', fontsize=53,
         fontweight='bold', family=['Open Sans', 'DejaVu Sans'])

fig.savefig('out.png', dpi=100, facecolor='white')
